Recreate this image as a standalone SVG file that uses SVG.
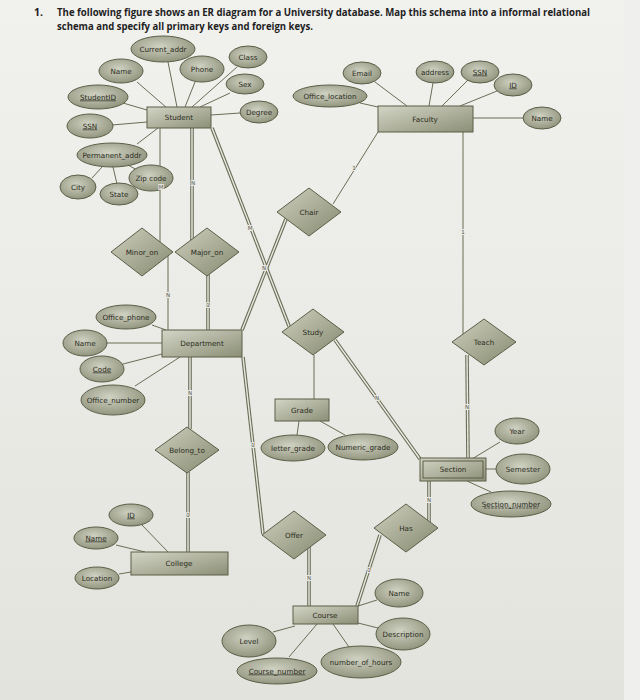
<svg xmlns="http://www.w3.org/2000/svg" width="640" height="700" viewBox="0 0 640 700">
<defs>
<linearGradient id="bg" x1="0" y1="0" x2="0" y2="1">
<stop offset="0" stop-color="#f1f1ee"/><stop offset="1" stop-color="#e3e3de"/>
</linearGradient>
<linearGradient id="gRect" x1="0" y1="0" x2="1" y2="1">
<stop offset="0" stop-color="#d3d5c6"/><stop offset="1" stop-color="#8c8f76"/>
</linearGradient>
<linearGradient id="gDia" x1="0" y1="0" x2="1" y2="1">
<stop offset="0" stop-color="#cdcfbe"/><stop offset="1" stop-color="#878a70"/>
</linearGradient>
<radialGradient id="gEll" cx="0.45" cy="0.4" r="0.65">
<stop offset="0" stop-color="#cfd1c2"/><stop offset="1" stop-color="#8e9179"/>
</radialGradient>
<style>
.ent{fill:url(#gRect);stroke:#5c5f47;stroke-width:1}
.rel{fill:url(#gDia);stroke:#5c5f47;stroke-width:1}
.att{fill:url(#gEll);stroke:#5c5f47;stroke-width:1}
.t{font-family:"DejaVu Sans","Liberation Sans",sans-serif;font-size:7.2px;fill:#2b2c22;text-anchor:middle}
.key{text-decoration:underline}
.ln{stroke:#6a6d55;stroke-width:1;fill:none}
.d1{stroke:#6a6d55;stroke-width:3.6;fill:none}
.d2{stroke:#e9e9e4;stroke-width:1.4;fill:none}
.card{font-family:"DejaVu Sans","Liberation Sans",sans-serif;font-size:5.5px;fill:#5a5a50;text-anchor:middle;stroke:#e9e9e4;stroke-width:1.8;paint-order:stroke}
.title{font-family:"Open Sans","Liberation Sans",sans-serif;font-size:10.5px;font-weight:700;fill:#1e1e1e}
</style>
</defs>
<rect width="640" height="700" fill="url(#bg)"/>
<rect x="624" y="0" width="16" height="700" fill="#efefed"/>

<g id="title">
<text class="title" x="34" y="16">1.</text>
<text class="title" x="57" y="16" textLength="533" lengthAdjust="spacingAndGlyphs">The following figure shows an ER diagram for a University database. Map this schema into a informal relational</text>
<text class="title" x="57" y="30" textLength="256" lengthAdjust="spacingAndGlyphs">schema and specify all primary keys and foreign keys.</text>
</g>

<g id="connectors">
<!-- single attribute lines -->
<line class="ln" x1="168" y1="62" x2="177" y2="107"/>
<line class="ln" x1="137" y1="82" x2="167" y2="108"/>
<line class="ln" x1="195" y1="82" x2="185" y2="107"/>
<line class="ln" x1="237" y1="67" x2="192" y2="107"/>
<line class="ln" x1="230" y1="93" x2="200" y2="107"/>
<line class="ln" x1="123" y1="103" x2="147" y2="110"/>
<line class="ln" x1="112" y1="125" x2="147" y2="122"/>
<line class="ln" x1="137" y1="144" x2="158" y2="128"/>
<line class="ln" x1="211" y1="115" x2="240" y2="113"/>
<line class="ln" x1="103" y1="166" x2="92" y2="178"/>
<line class="ln" x1="113" y1="167" x2="117" y2="184"/>
<line class="ln" x1="128" y1="165" x2="137" y2="170"/>
<line class="ln" x1="375" y1="82" x2="407" y2="106"/>
<line class="ln" x1="433" y1="83" x2="429" y2="106"/>
<line class="ln" x1="468" y1="80" x2="442" y2="106"/>
<line class="ln" x1="497" y1="91" x2="460" y2="106"/>
<line class="ln" x1="360" y1="103" x2="378" y2="107"/>
<line class="ln" x1="473" y1="118" x2="523" y2="118"/>
<line class="ln" x1="152" y1="325" x2="166" y2="330"/>
<line class="ln" x1="107" y1="343" x2="162" y2="343"/>
<line class="ln" x1="123" y1="364" x2="162" y2="354"/>
<line class="ln" x1="135" y1="386" x2="180" y2="357"/>
<line class="ln" x1="299" y1="421" x2="297" y2="435"/>
<line class="ln" x1="320" y1="421" x2="345" y2="435"/>
<line class="ln" x1="500" y1="442" x2="472" y2="459"/>
<line class="ln" x1="486" y1="469" x2="496" y2="469"/>
<line class="ln" x1="467" y1="481" x2="491" y2="492"/>
<line class="ln" x1="142" y1="525" x2="168" y2="552"/>
<line class="ln" x1="116" y1="545" x2="145" y2="552"/>
<line class="ln" x1="119" y1="574" x2="131" y2="572"/>
<line class="ln" x1="358" y1="606" x2="377" y2="600"/>
<line class="ln" x1="358" y1="623" x2="378" y2="628"/>
<line class="ln" x1="295" y1="626" x2="273" y2="632"/>
<line class="ln" x1="317" y1="624" x2="289" y2="657"/>
<line class="ln" x1="333" y1="624" x2="349" y2="647"/>
<!-- single relationship lines -->
<line class="ln" x1="160" y1="128" x2="160" y2="248"/>
<line class="ln" x1="168" y1="256" x2="168" y2="330"/>
<line class="ln" x1="378" y1="132" x2="333" y2="204"/>
<line class="ln" x1="463" y1="132" x2="463" y2="345"/>
<line class="ln" x1="314" y1="355" x2="314" y2="399"/>
<!-- double relationship lines -->
<g class="d1">
<line x1="192" y1="128" x2="192" y2="242"/>
<line x1="208" y1="274" x2="208" y2="330"/>
<line x1="212" y1="128" x2="289" y2="326"/>
<line x1="286" y1="219" x2="242" y2="330"/>
<line x1="335" y1="340" x2="420" y2="459"/>
<line x1="467" y1="355" x2="468" y2="459"/>
<line x1="429" y1="481" x2="429" y2="522"/>
<line x1="380" y1="535" x2="357" y2="606"/>
<line x1="243" y1="357" x2="263" y2="534"/>
<line x1="309" y1="547" x2="309" y2="606"/>
<line x1="190" y1="357" x2="190" y2="429"/>
<line x1="188" y1="472" x2="188" y2="552"/>
</g>
<g class="d2">
<line x1="192" y1="128" x2="192" y2="242"/>
<line x1="208" y1="274" x2="208" y2="330"/>
<line x1="212" y1="128" x2="289" y2="326"/>
<line x1="286" y1="219" x2="242" y2="330"/>
<line x1="335" y1="340" x2="420" y2="459"/>
<line x1="467" y1="355" x2="468" y2="459"/>
<line x1="429" y1="481" x2="429" y2="522"/>
<line x1="380" y1="535" x2="357" y2="606"/>
<line x1="243" y1="357" x2="263" y2="534"/>
<line x1="309" y1="547" x2="309" y2="606"/>
<line x1="190" y1="357" x2="190" y2="429"/>
<line x1="188" y1="472" x2="188" y2="552"/>
</g>
</g>

<!-- Student -->
<g id="student"><rect class="ent" x="147" y="107" width="64" height="21"/><text class="t" x="179" y="120">Student</text></g>
<g id="current_addr"><ellipse class="att" cx="163" cy="49" rx="32" ry="13"/><text class="t" x="163" y="51.5">Current_addr</text></g>
<g id="student_name"><ellipse class="att" cx="121" cy="71" rx="22" ry="12"/><text class="t" x="121" y="73.5">Name</text></g>
<g id="phone"><ellipse class="att" cx="202" cy="69" rx="22" ry="13"/><text class="t" x="202" y="71.5">Phone</text></g>
<g id="class"><ellipse class="att" cx="248" cy="57" rx="19" ry="11"/><text class="t" x="248" y="59.5">Class</text></g>
<g id="sex"><ellipse class="att" cx="245" cy="84" rx="19" ry="10"/><text class="t" x="245" y="86.5">Sex</text></g>
<g id="studentid"><ellipse class="att" cx="98" cy="97" rx="30" ry="12"/><text class="t key" x="98" y="99.5">StudentID</text></g>
<g id="student_ssn"><ellipse class="att" cx="90" cy="126" rx="23" ry="12"/><text class="t key" x="90" y="128.5">SSN</text></g>
<g id="degree"><ellipse class="att" cx="259" cy="112" rx="19" ry="11"/><text class="t" x="259" y="114.5">Degree</text></g>
<g id="permanent_addr"><ellipse class="att" cx="112" cy="155" rx="35" ry="12"/><text class="t" x="112" y="157.5">Permanent_addr</text></g>
<g id="city"><ellipse class="att" cx="78" cy="187" rx="18" ry="12"/><text class="t" x="78" y="189.5">City</text></g>
<g id="state"><ellipse class="att" cx="119" cy="194" rx="19" ry="11"/><text class="t" x="119" y="196.5">State</text></g>
<g id="zip_code"><ellipse class="att" cx="151" cy="178" rx="22" ry="13"/><text class="t" x="151" y="180.5">Zip code</text></g>

<!-- Faculty -->
<g id="faculty"><rect class="ent" x="378" y="106" width="95" height="26"/><text class="t" x="425" y="121.5">Faculty</text></g>
<g id="email"><ellipse class="att" cx="362" cy="73" rx="19" ry="11"/><text class="t" x="362" y="75.5">Email</text></g>
<g id="address"><ellipse class="att" cx="435" cy="72" rx="19" ry="11"/><text class="t" x="435" y="74.5">address</text></g>
<g id="faculty_ssn"><ellipse class="att" cx="480" cy="72" rx="19" ry="11"/><text class="t key" x="480" y="74.5">SSN</text></g>
<g id="faculty_id"><ellipse class="att" cx="513" cy="85" rx="19" ry="11"/><text class="t key" x="513" y="87.5">ID</text></g>
<g id="office_location"><ellipse class="att" cx="330" cy="96" rx="37" ry="11"/><text class="t" x="330" y="98.5">Office_location</text></g>
<g id="faculty_name"><ellipse class="att" cx="542" cy="118" rx="19" ry="11"/><text class="t" x="542" y="120.5">Name</text></g>

<!-- relationships -->
<g id="minor_on"><polygon class="rel" points="142,228 173,252 142,276 111,252"/><text class="t" x="142" y="254.5">Minor_on</text></g>
<g id="major_on"><polygon class="rel" points="207,228 239,252 207,276 175,252"/><text class="t" x="207" y="254.5">Major_on</text></g>
<g id="chair"><polygon class="rel" points="309,188 341,212 309,236 277,212"/><text class="t" x="309" y="214.5">Chair</text></g>
<g id="study"><polygon class="rel" points="313,309 344,332 313,355 282,332"/><text class="t" x="313" y="334.5">Study</text></g>
<g id="teach"><polygon class="rel" points="484,319 516,342 484,365 452,342"/><text class="t" x="484" y="344.5">Teach</text></g>
<g id="belong_to"><polygon class="rel" points="187,427 219,450 187,473 155,450"/><text class="t" x="187" y="452.5">Belong_to</text></g>
<g id="offer"><polygon class="rel" points="294,511 326,535 294,559 262,535"/><text class="t" x="294" y="537.5">Offer</text></g>
<g id="has"><polygon class="rel" points="406,504 438,528 406,552 374,528"/><text class="t" x="406" y="530.5">Has</text></g>

<!-- Department -->
<g id="department"><rect class="ent" x="162" y="330" width="80" height="27"/><text class="t" x="202" y="346">Department</text></g>
<g id="office_phone"><ellipse class="att" cx="126" cy="317" rx="30" ry="12"/><text class="t" x="126" y="319.5">Office_phone</text></g>
<g id="department_name"><ellipse class="att" cx="85" cy="343" rx="22" ry="13"/><text class="t" x="85" y="345.5">Name</text></g>
<g id="code"><ellipse class="att" cx="102" cy="369" rx="22" ry="13"/><text class="t key" x="102" y="371.5">Code</text></g>
<g id="office_number"><ellipse class="att" cx="113" cy="400" rx="32" ry="15"/><text class="t" x="113" y="402.5">Office_number</text></g>

<!-- Grade -->
<g id="grade"><rect class="ent" x="275" y="399" width="54" height="22"/><text class="t" x="302" y="412.5">Grade</text></g>
<g id="letter_grade"><ellipse class="att" cx="293" cy="448" rx="32" ry="13"/><text class="t" x="293" y="450.5">letter_grade</text></g>
<g id="numeric_grade"><ellipse class="att" cx="363" cy="447" rx="35" ry="13"/><text class="t" x="363" y="449.5">Numeric_grade</text></g>

<!-- Section -->
<g id="section"><rect class="ent" x="420" y="458" width="66" height="23"/><rect x="423" y="461" width="60" height="17" fill="none" stroke="#5c5f47" stroke-width="1"/><text class="t" x="453" y="472">Section</text></g>
<g id="year"><ellipse class="att" cx="517" cy="431" rx="22" ry="13"/><text class="t" x="517" y="433.5">Year</text></g>
<g id="semester"><ellipse class="att" cx="523" cy="469" rx="27" ry="15"/><text class="t" x="523" y="471.5">Semester</text></g>
<g id="section_number"><ellipse class="att" cx="511" cy="504" rx="40" ry="13"/><text class="t" x="511" y="506.5">Section_number</text><line x1="484" y1="508" x2="538" y2="508" stroke="#2b2c22" stroke-width="0.7" stroke-dasharray="2.5,1"/></g>

<!-- College -->
<g id="college"><rect class="ent" x="131" y="552" width="97" height="23"/><text class="t" x="179" y="566">College</text></g>
<g id="college_id"><ellipse class="att" cx="131" cy="515" rx="22" ry="11"/><text class="t key" x="131" y="517.5">ID</text></g>
<g id="college_name"><ellipse class="att" cx="96" cy="538" rx="22" ry="11"/><text class="t key" x="96" y="540.5">Name</text></g>
<g id="location"><ellipse class="att" cx="97" cy="578" rx="22" ry="11"/><text class="t" x="97" y="580.5">Location</text></g>

<!-- Course -->
<g id="course"><rect class="ent" x="293" y="606" width="65" height="18"/><text class="t" x="325" y="617.5">Course</text></g>
<g id="course_name"><ellipse class="att" cx="399" cy="593" rx="24" ry="14"/><text class="t" x="399" y="595.5">Name</text></g>
<g id="description"><ellipse class="att" cx="403" cy="634" rx="27" ry="16"/><text class="t" x="403" y="636.5">Description</text></g>
<g id="level"><ellipse class="att" cx="249" cy="641" rx="27" ry="16"/><text class="t" x="249" y="643.5">Level</text></g>
<g id="course_number"><ellipse class="att" cx="277" cy="671" rx="40" ry="13"/><text class="t key" x="277" y="673.5">Course_number</text></g>
<g id="number_of_hours"><ellipse class="att" cx="361" cy="662" rx="40" ry="16"/><text class="t" x="361" y="664.5">number_of_hours</text></g>

<!-- cardinalities -->
<g id="cardinalities">
<text class="card" x="161" y="189">M</text>
<text class="card" x="193" y="185">N</text>
<text class="card" x="168" y="297">N</text>
<text class="card" x="208" y="307">1</text>
<text class="card" x="250" y="230">M</text>
<text class="card" x="264" y="270">N</text>
<text class="card" x="354" y="170">1</text>
<text class="card" x="463" y="234">1</text>
<text class="card" x="467" y="409">N</text>
<text class="card" x="377" y="400">N</text>
<text class="card" x="190" y="395">N</text>
<text class="card" x="188" y="517">1</text>
<text class="card" x="253" y="447">1</text>
<text class="card" x="309" y="580">N</text>
<text class="card" x="429" y="502">N</text>
<text class="card" x="369" y="572">1</text>
</g>
</svg>
